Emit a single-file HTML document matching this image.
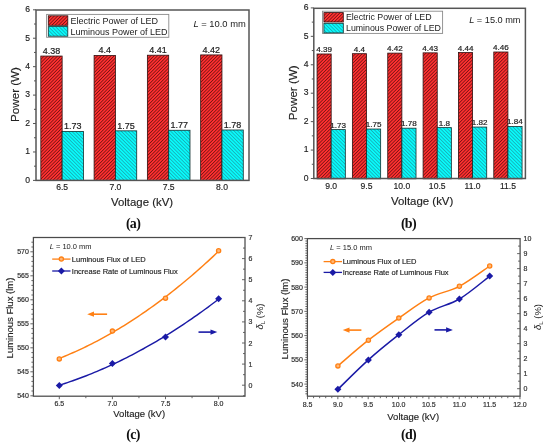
<!DOCTYPE html><html><head><meta charset="utf-8"><style>html,body{margin:0;padding:0;background:#fff;}svg{display:block;will-change:transform;}</style></head><body>
<svg width="550" height="446" viewBox="0 0 550 446" font-family='"Liberation Sans", sans-serif'>
<defs>
<pattern id="hr" patternUnits="userSpaceOnUse" width="2.35" height="3" patternTransform="rotate(45)">
<rect width="2.35" height="3" fill="#ff3030"/><rect x="0" y="0" width="0.7" height="3" fill="#661010"/></pattern>
<pattern id="hc" patternUnits="userSpaceOnUse" width="2.5" height="3.3" patternTransform="rotate(-45)">
<rect width="2.5" height="3.3" fill="#08fafa"/><rect x="0" y="0" width="0.65" height="3.3" fill="#1a9aa6"/></pattern>
</defs>
<rect width="550" height="446" fill="#fff"/>
<rect x="40.83" y="56.06" width="21.31" height="124.54" fill="url(#hr)" stroke="#301010" stroke-width="0.8"/>
<rect x="62.14" y="131.41" width="21.31" height="49.19" fill="url(#hc)" stroke="#103030" stroke-width="0.8"/>
<text x="51.48" y="54.06" font-size="9" text-anchor="middle" fill="#222" stroke="#222" stroke-width="0.2">4.38</text>
<text x="72.79" y="129.41" font-size="9" text-anchor="middle" fill="#222" stroke="#222" stroke-width="0.2">1.73</text>
<text x="62.14" y="190.48" font-size="8.6" text-anchor="middle" fill="#222" stroke="#222" stroke-width="0.15">6.5</text>
<rect x="94.10" y="55.49" width="21.31" height="125.11" fill="url(#hr)" stroke="#301010" stroke-width="0.8"/>
<rect x="115.41" y="130.84" width="21.31" height="49.76" fill="url(#hc)" stroke="#103030" stroke-width="0.8"/>
<text x="104.76" y="53.49" font-size="9" text-anchor="middle" fill="#222" stroke="#222" stroke-width="0.2">4.4</text>
<text x="126.07" y="128.84" font-size="9" text-anchor="middle" fill="#222" stroke="#222" stroke-width="0.2">1.75</text>
<text x="115.41" y="190.48" font-size="8.6" text-anchor="middle" fill="#222" stroke="#222" stroke-width="0.15">7.0</text>
<rect x="147.38" y="55.21" width="21.31" height="125.39" fill="url(#hr)" stroke="#301010" stroke-width="0.8"/>
<rect x="168.69" y="130.27" width="21.31" height="50.33" fill="url(#hc)" stroke="#103030" stroke-width="0.8"/>
<text x="158.03" y="53.21" font-size="9" text-anchor="middle" fill="#222" stroke="#222" stroke-width="0.2">4.41</text>
<text x="179.34" y="128.27" font-size="9" text-anchor="middle" fill="#222" stroke="#222" stroke-width="0.2">1.77</text>
<text x="168.69" y="190.48" font-size="8.6" text-anchor="middle" fill="#222" stroke="#222" stroke-width="0.15">7.5</text>
<rect x="200.65" y="54.92" width="21.31" height="125.68" fill="url(#hr)" stroke="#301010" stroke-width="0.8"/>
<rect x="221.96" y="129.99" width="21.31" height="50.61" fill="url(#hc)" stroke="#103030" stroke-width="0.8"/>
<text x="211.31" y="52.92" font-size="9" text-anchor="middle" fill="#222" stroke="#222" stroke-width="0.2">4.42</text>
<text x="232.62" y="127.99" font-size="9" text-anchor="middle" fill="#222" stroke="#222" stroke-width="0.2">1.78</text>
<text x="221.96" y="190.48" font-size="8.6" text-anchor="middle" fill="#222" stroke="#222" stroke-width="0.15">8.0</text>
<rect x="36.00" y="10.00" width="213.00" height="170.40" fill="none" stroke="#555" stroke-width="1.5"/>
<line x1="33.00" y1="180.40" x2="36.00" y2="180.40" stroke="#555" stroke-width="1"/>
<text x="30.00" y="182.68" font-size="8.6" text-anchor="end" fill="#222" stroke="#222" stroke-width="0.15">0</text>
<line x1="34.00" y1="166.18" x2="36.00" y2="166.18" stroke="#555" stroke-width="1"/>
<line x1="33.00" y1="151.97" x2="36.00" y2="151.97" stroke="#555" stroke-width="1"/>
<text x="30.00" y="154.25" font-size="8.6" text-anchor="end" fill="#222" stroke="#222" stroke-width="0.15">1</text>
<line x1="34.00" y1="137.75" x2="36.00" y2="137.75" stroke="#555" stroke-width="1"/>
<line x1="33.00" y1="123.53" x2="36.00" y2="123.53" stroke="#555" stroke-width="1"/>
<text x="30.00" y="125.81" font-size="8.6" text-anchor="end" fill="#222" stroke="#222" stroke-width="0.15">2</text>
<line x1="34.00" y1="109.32" x2="36.00" y2="109.32" stroke="#555" stroke-width="1"/>
<line x1="33.00" y1="95.10" x2="36.00" y2="95.10" stroke="#555" stroke-width="1"/>
<text x="30.00" y="97.38" font-size="8.6" text-anchor="end" fill="#222" stroke="#222" stroke-width="0.15">3</text>
<line x1="34.00" y1="80.88" x2="36.00" y2="80.88" stroke="#555" stroke-width="1"/>
<line x1="33.00" y1="66.67" x2="36.00" y2="66.67" stroke="#555" stroke-width="1"/>
<text x="30.00" y="68.95" font-size="8.6" text-anchor="end" fill="#222" stroke="#222" stroke-width="0.15">4</text>
<line x1="34.00" y1="52.45" x2="36.00" y2="52.45" stroke="#555" stroke-width="1"/>
<line x1="33.00" y1="38.23" x2="36.00" y2="38.23" stroke="#555" stroke-width="1"/>
<text x="30.00" y="40.51" font-size="8.6" text-anchor="end" fill="#222" stroke="#222" stroke-width="0.15">5</text>
<line x1="34.00" y1="24.02" x2="36.00" y2="24.02" stroke="#555" stroke-width="1"/>
<line x1="33.00" y1="9.80" x2="36.00" y2="9.80" stroke="#555" stroke-width="1"/>
<text x="30.00" y="12.08" font-size="8.6" text-anchor="end" fill="#222" stroke="#222" stroke-width="0.15">6</text>
<rect x="46.6" y="14.4" width="122.20000000000002" height="22.9" fill="#fff" stroke="#8a8a8a" stroke-width="0.9"/>
<rect x="48.3" y="15.8" width="19.5" height="9.5" fill="url(#hr)" stroke="#301010" stroke-width="0.8"/>
<rect x="48.3" y="26.6" width="19.5" height="9.600000000000001" fill="url(#hc)" stroke="#103030" stroke-width="0.8"/>
<text x="70.50" y="23.77" font-size="9" text-anchor="start" fill="#222" >Electric Power of LED</text>
<text x="70.50" y="34.62" font-size="9" text-anchor="start" fill="#222" >Luminous Power of LED</text>
<text x="193.4" y="27.17" font-size="9.40" fill="#222"><tspan font-style="italic">L</tspan> = 10.0 mm</text>
<text transform="translate(18.95,94.50) rotate(-90)" font-size="11.6" text-anchor="middle" fill="#222" stroke="#222" stroke-width="0.15">Power (W)</text>
<text x="111.00" y="206.28" font-size="11.4" text-anchor="start" fill="#222" stroke="#222" stroke-width="0.15">Voltage (kV)</text>
<text x="133" y="227.61" font-size="14" font-family="Liberation Serif, serif" font-weight="bold" fill="#111" text-anchor="middle" letter-spacing="-0.7">(a)</text>
<rect x="317.04" y="53.98" width="14.14" height="124.82" fill="url(#hr)" stroke="#301010" stroke-width="0.8"/>
<rect x="331.18" y="129.61" width="14.14" height="49.19" fill="url(#hc)" stroke="#103030" stroke-width="0.8"/>
<text x="324.11" y="51.98" font-size="8.1" text-anchor="middle" fill="#222" stroke="#222" stroke-width="0.2">4.39</text>
<text x="338.25" y="127.61" font-size="8.1" text-anchor="middle" fill="#222" stroke="#222" stroke-width="0.2">1.73</text>
<text x="331.18" y="189.38" font-size="8.6" text-anchor="middle" fill="#222" stroke="#222" stroke-width="0.15">9.0</text>
<rect x="352.38" y="53.69" width="14.14" height="125.11" fill="url(#hr)" stroke="#301010" stroke-width="0.8"/>
<rect x="366.52" y="129.04" width="14.14" height="49.76" fill="url(#hc)" stroke="#103030" stroke-width="0.8"/>
<text x="359.45" y="51.69" font-size="8.1" text-anchor="middle" fill="#222" stroke="#222" stroke-width="0.2">4.4</text>
<text x="373.59" y="127.04" font-size="8.1" text-anchor="middle" fill="#222" stroke="#222" stroke-width="0.2">1.75</text>
<text x="366.52" y="189.38" font-size="8.6" text-anchor="middle" fill="#222" stroke="#222" stroke-width="0.15">9.5</text>
<rect x="387.74" y="53.12" width="14.14" height="125.68" fill="url(#hr)" stroke="#301010" stroke-width="0.8"/>
<rect x="401.88" y="128.19" width="14.14" height="50.61" fill="url(#hc)" stroke="#103030" stroke-width="0.8"/>
<text x="394.81" y="51.12" font-size="8.1" text-anchor="middle" fill="#222" stroke="#222" stroke-width="0.2">4.42</text>
<text x="408.94" y="126.19" font-size="8.1" text-anchor="middle" fill="#222" stroke="#222" stroke-width="0.2">1.78</text>
<text x="401.88" y="189.38" font-size="8.6" text-anchor="middle" fill="#222" stroke="#222" stroke-width="0.15">10.0</text>
<rect x="423.09" y="52.84" width="14.14" height="125.96" fill="url(#hr)" stroke="#301010" stroke-width="0.8"/>
<rect x="437.23" y="127.62" width="14.14" height="51.18" fill="url(#hc)" stroke="#103030" stroke-width="0.8"/>
<text x="430.16" y="50.84" font-size="8.1" text-anchor="middle" fill="#222" stroke="#222" stroke-width="0.2">4.43</text>
<text x="444.30" y="125.62" font-size="8.1" text-anchor="middle" fill="#222" stroke="#222" stroke-width="0.2">1.8</text>
<text x="437.23" y="189.38" font-size="8.6" text-anchor="middle" fill="#222" stroke="#222" stroke-width="0.15">10.5</text>
<rect x="458.44" y="52.56" width="14.14" height="126.24" fill="url(#hr)" stroke="#301010" stroke-width="0.8"/>
<rect x="472.58" y="127.05" width="14.14" height="51.75" fill="url(#hc)" stroke="#103030" stroke-width="0.8"/>
<text x="465.51" y="50.56" font-size="8.1" text-anchor="middle" fill="#222" stroke="#222" stroke-width="0.2">4.44</text>
<text x="479.65" y="125.05" font-size="8.1" text-anchor="middle" fill="#222" stroke="#222" stroke-width="0.2">1.82</text>
<text x="472.58" y="189.38" font-size="8.6" text-anchor="middle" fill="#222" stroke="#222" stroke-width="0.15">11.0</text>
<rect x="493.79" y="51.99" width="14.14" height="126.81" fill="url(#hr)" stroke="#301010" stroke-width="0.8"/>
<rect x="507.93" y="126.48" width="14.14" height="52.32" fill="url(#hc)" stroke="#103030" stroke-width="0.8"/>
<text x="500.86" y="49.99" font-size="8.1" text-anchor="middle" fill="#222" stroke="#222" stroke-width="0.2">4.46</text>
<text x="515.00" y="124.48" font-size="8.1" text-anchor="middle" fill="#222" stroke="#222" stroke-width="0.2">1.84</text>
<text x="507.93" y="189.38" font-size="8.6" text-anchor="middle" fill="#222" stroke="#222" stroke-width="0.15">11.5</text>
<rect x="313.80" y="8.30" width="211.60" height="170.20" fill="none" stroke="#555" stroke-width="1.5"/>
<line x1="310.80" y1="178.50" x2="313.80" y2="178.50" stroke="#555" stroke-width="1"/>
<text x="308.50" y="180.78" font-size="8.6" text-anchor="end" fill="#222" stroke="#222" stroke-width="0.15">0</text>
<line x1="311.80" y1="164.28" x2="313.80" y2="164.28" stroke="#555" stroke-width="1"/>
<line x1="310.80" y1="150.07" x2="313.80" y2="150.07" stroke="#555" stroke-width="1"/>
<text x="308.50" y="152.35" font-size="8.6" text-anchor="end" fill="#222" stroke="#222" stroke-width="0.15">1</text>
<line x1="311.80" y1="135.85" x2="313.80" y2="135.85" stroke="#555" stroke-width="1"/>
<line x1="310.80" y1="121.63" x2="313.80" y2="121.63" stroke="#555" stroke-width="1"/>
<text x="308.50" y="123.91" font-size="8.6" text-anchor="end" fill="#222" stroke="#222" stroke-width="0.15">2</text>
<line x1="311.80" y1="107.42" x2="313.80" y2="107.42" stroke="#555" stroke-width="1"/>
<line x1="310.80" y1="93.20" x2="313.80" y2="93.20" stroke="#555" stroke-width="1"/>
<text x="308.50" y="95.48" font-size="8.6" text-anchor="end" fill="#222" stroke="#222" stroke-width="0.15">3</text>
<line x1="311.80" y1="78.98" x2="313.80" y2="78.98" stroke="#555" stroke-width="1"/>
<line x1="310.80" y1="64.77" x2="313.80" y2="64.77" stroke="#555" stroke-width="1"/>
<text x="308.50" y="67.05" font-size="8.6" text-anchor="end" fill="#222" stroke="#222" stroke-width="0.15">4</text>
<line x1="311.80" y1="50.55" x2="313.80" y2="50.55" stroke="#555" stroke-width="1"/>
<line x1="310.80" y1="36.33" x2="313.80" y2="36.33" stroke="#555" stroke-width="1"/>
<text x="308.50" y="38.61" font-size="8.6" text-anchor="end" fill="#222" stroke="#222" stroke-width="0.15">5</text>
<line x1="311.80" y1="22.12" x2="313.80" y2="22.12" stroke="#555" stroke-width="1"/>
<line x1="310.80" y1="7.90" x2="313.80" y2="7.90" stroke="#555" stroke-width="1"/>
<text x="308.50" y="10.18" font-size="8.6" text-anchor="end" fill="#222" stroke="#222" stroke-width="0.15">6</text>
<rect x="322.5" y="11.2" width="120.10000000000002" height="22.2" fill="#fff" stroke="#8a8a8a" stroke-width="0.9"/>
<rect x="323.9" y="12.6" width="19.400000000000034" height="9.4" fill="url(#hr)" stroke="#301010" stroke-width="0.8"/>
<rect x="323.9" y="23.3" width="19.400000000000034" height="9.599999999999998" fill="url(#hc)" stroke="#103030" stroke-width="0.8"/>
<text x="346.00" y="20.45" font-size="8.8" text-anchor="start" fill="#222" >Electric Power of LED</text>
<text x="346.00" y="31.25" font-size="8.8" text-anchor="start" fill="#222" >Luminous Power of LED</text>
<text x="469.2" y="23.29" font-size="9.20" fill="#222"><tspan font-style="italic">L</tspan> = 15.0 mm</text>
<text transform="translate(297.05,92.80) rotate(-90)" font-size="11.6" text-anchor="middle" fill="#222" stroke="#222" stroke-width="0.15">Power (W)</text>
<text x="391.00" y="204.70" font-size="11.45" text-anchor="start" fill="#222" stroke="#222" stroke-width="0.15">Voltage (kV)</text>
<text x="408.4" y="227.61" font-size="14" font-family="Liberation Serif, serif" font-weight="bold" fill="#111" text-anchor="middle" letter-spacing="-0.7">(b)</text>
<path d="M59.30,358.42 L62.00,357.34 L64.70,356.24 L67.40,355.11 L70.10,353.95 L72.80,352.77 L75.50,351.57 L78.20,350.34 L80.90,349.08 L83.60,347.80 L86.30,346.50 L89.00,345.16 L91.70,343.81 L94.40,342.42 L97.10,341.02 L99.80,339.58 L102.50,338.12 L105.20,336.64 L107.90,335.13 L110.60,333.59 L113.30,332.03 L116.00,330.45 L118.70,328.83 L121.40,327.20 L124.10,325.53 L126.80,323.84 L129.50,322.13 L132.20,320.39 L134.90,318.63 L137.60,316.84 L140.30,315.02 L143.00,313.18 L145.70,311.31 L148.40,309.42 L151.10,307.50 L153.80,305.56 L156.50,303.59 L159.20,301.60 L161.90,299.58 L164.60,297.53 L167.30,295.46 L170.00,293.37 L172.70,291.24 L175.40,289.10 L178.10,286.93 L180.80,284.73 L183.50,282.50 L186.20,280.26 L188.90,277.98 L191.60,275.68 L194.30,273.36 L197.00,271.01 L199.70,268.63 L202.40,266.23 L205.10,263.80 L207.80,261.35 L210.50,258.87 L213.20,256.37 L215.90,253.84 L218.60,251.28" fill="none" stroke="#ff8014" stroke-width="1.45"/>
<path d="M59.30,385.22 L62.00,384.36 L64.70,383.48 L67.40,382.58 L70.10,381.66 L72.80,380.72 L75.50,379.76 L78.20,378.78 L80.90,377.77 L83.60,376.75 L86.30,375.70 L89.00,374.64 L91.70,373.55 L94.40,372.45 L97.10,371.32 L99.80,370.17 L102.50,369.00 L105.20,367.81 L107.90,366.60 L110.60,365.37 L113.30,364.12 L116.00,362.85 L118.70,361.56 L121.40,360.24 L124.10,358.91 L126.80,357.55 L129.50,356.18 L132.20,354.78 L134.90,353.36 L137.60,351.93 L140.30,350.47 L143.00,348.99 L145.70,347.49 L148.40,345.97 L151.10,344.43 L153.80,342.87 L156.50,341.28 L159.20,339.68 L161.90,338.06 L164.60,336.41 L167.30,334.75 L170.00,333.06 L172.70,331.36 L175.40,329.63 L178.10,327.88 L180.80,326.11 L183.50,324.32 L186.20,322.51 L188.90,320.68 L191.60,318.83 L194.30,316.96 L197.00,315.07 L199.70,313.15 L202.40,311.22 L205.10,309.26 L207.80,307.29 L210.50,305.29 L213.20,303.28 L215.90,301.24 L218.60,299.18" fill="none" stroke="#1a1aa6" stroke-width="1.45"/>
<circle cx="59.30" cy="358.90" r="2.1" fill="#ffb878" stroke="#ff8014" stroke-width="1.3"/>
<circle cx="112.40" cy="331.10" r="2.1" fill="#ffb878" stroke="#ff8014" stroke-width="1.3"/>
<circle cx="165.50" cy="298.30" r="2.1" fill="#ffb878" stroke="#ff8014" stroke-width="1.3"/>
<circle cx="218.60" cy="250.80" r="2.1" fill="#ffb878" stroke="#ff8014" stroke-width="1.3"/>
<path d="M59.30,382.10 L62.80,385.60 L59.30,389.10 L55.80,385.60 Z" fill="#1a1aa6"/>
<path d="M112.40,359.90 L115.90,363.40 L112.40,366.90 L108.90,363.40 Z" fill="#1a1aa6"/>
<path d="M165.50,333.50 L169.00,337.00 L165.50,340.50 L162.00,337.00 Z" fill="#1a1aa6"/>
<path d="M218.60,295.30 L222.10,298.80 L218.60,302.30 L215.10,298.80 Z" fill="#1a1aa6"/>
<rect x="33.40" y="237.50" width="211.60" height="158.70" fill="none" stroke="#4a4a4a" stroke-width="1.25"/>
<line x1="30.40" y1="395.80" x2="33.40" y2="395.80" stroke="#555" stroke-width="0.9"/>
<text x="28.90" y="398.31" font-size="7.0" text-anchor="end" fill="#333" stroke="#333" stroke-width="0.2">540</text>
<line x1="31.40" y1="391.00" x2="33.40" y2="391.00" stroke="#555" stroke-width="0.9"/>
<line x1="31.40" y1="386.20" x2="33.40" y2="386.20" stroke="#555" stroke-width="0.9"/>
<line x1="31.40" y1="381.40" x2="33.40" y2="381.40" stroke="#555" stroke-width="0.9"/>
<line x1="31.40" y1="376.60" x2="33.40" y2="376.60" stroke="#555" stroke-width="0.9"/>
<line x1="30.40" y1="371.80" x2="33.40" y2="371.80" stroke="#555" stroke-width="0.9"/>
<text x="28.90" y="374.31" font-size="7.0" text-anchor="end" fill="#333" stroke="#333" stroke-width="0.2">545</text>
<line x1="31.40" y1="367.00" x2="33.40" y2="367.00" stroke="#555" stroke-width="0.9"/>
<line x1="31.40" y1="362.20" x2="33.40" y2="362.20" stroke="#555" stroke-width="0.9"/>
<line x1="31.40" y1="357.40" x2="33.40" y2="357.40" stroke="#555" stroke-width="0.9"/>
<line x1="31.40" y1="352.60" x2="33.40" y2="352.60" stroke="#555" stroke-width="0.9"/>
<line x1="30.40" y1="347.80" x2="33.40" y2="347.80" stroke="#555" stroke-width="0.9"/>
<text x="28.90" y="350.31" font-size="7.0" text-anchor="end" fill="#333" stroke="#333" stroke-width="0.2">550</text>
<line x1="31.40" y1="343.00" x2="33.40" y2="343.00" stroke="#555" stroke-width="0.9"/>
<line x1="31.40" y1="338.20" x2="33.40" y2="338.20" stroke="#555" stroke-width="0.9"/>
<line x1="31.40" y1="333.40" x2="33.40" y2="333.40" stroke="#555" stroke-width="0.9"/>
<line x1="31.40" y1="328.60" x2="33.40" y2="328.60" stroke="#555" stroke-width="0.9"/>
<line x1="30.40" y1="323.80" x2="33.40" y2="323.80" stroke="#555" stroke-width="0.9"/>
<text x="28.90" y="326.31" font-size="7.0" text-anchor="end" fill="#333" stroke="#333" stroke-width="0.2">555</text>
<line x1="31.40" y1="319.00" x2="33.40" y2="319.00" stroke="#555" stroke-width="0.9"/>
<line x1="31.40" y1="314.20" x2="33.40" y2="314.20" stroke="#555" stroke-width="0.9"/>
<line x1="31.40" y1="309.40" x2="33.40" y2="309.40" stroke="#555" stroke-width="0.9"/>
<line x1="31.40" y1="304.60" x2="33.40" y2="304.60" stroke="#555" stroke-width="0.9"/>
<line x1="30.40" y1="299.80" x2="33.40" y2="299.80" stroke="#555" stroke-width="0.9"/>
<text x="28.90" y="302.31" font-size="7.0" text-anchor="end" fill="#333" stroke="#333" stroke-width="0.2">560</text>
<line x1="31.40" y1="295.00" x2="33.40" y2="295.00" stroke="#555" stroke-width="0.9"/>
<line x1="31.40" y1="290.20" x2="33.40" y2="290.20" stroke="#555" stroke-width="0.9"/>
<line x1="31.40" y1="285.40" x2="33.40" y2="285.40" stroke="#555" stroke-width="0.9"/>
<line x1="31.40" y1="280.60" x2="33.40" y2="280.60" stroke="#555" stroke-width="0.9"/>
<line x1="30.40" y1="275.80" x2="33.40" y2="275.80" stroke="#555" stroke-width="0.9"/>
<text x="28.90" y="278.31" font-size="7.0" text-anchor="end" fill="#333" stroke="#333" stroke-width="0.2">565</text>
<line x1="31.40" y1="271.00" x2="33.40" y2="271.00" stroke="#555" stroke-width="0.9"/>
<line x1="31.40" y1="266.20" x2="33.40" y2="266.20" stroke="#555" stroke-width="0.9"/>
<line x1="31.40" y1="261.40" x2="33.40" y2="261.40" stroke="#555" stroke-width="0.9"/>
<line x1="31.40" y1="256.60" x2="33.40" y2="256.60" stroke="#555" stroke-width="0.9"/>
<line x1="30.40" y1="251.80" x2="33.40" y2="251.80" stroke="#555" stroke-width="0.9"/>
<text x="28.90" y="254.31" font-size="7.0" text-anchor="end" fill="#333" stroke="#333" stroke-width="0.2">570</text>
<line x1="31.40" y1="247.00" x2="33.40" y2="247.00" stroke="#555" stroke-width="0.9"/>
<line x1="31.40" y1="242.20" x2="33.40" y2="242.20" stroke="#555" stroke-width="0.9"/>
<line x1="243.00" y1="395.75" x2="245.00" y2="395.75" stroke="#555" stroke-width="0.9"/>
<line x1="242.00" y1="385.20" x2="245.00" y2="385.20" stroke="#555" stroke-width="0.9"/>
<text x="248.50" y="387.71" font-size="7.0" text-anchor="start" fill="#333" stroke="#333" stroke-width="0.2">0</text>
<line x1="243.00" y1="374.65" x2="245.00" y2="374.65" stroke="#555" stroke-width="0.9"/>
<line x1="242.00" y1="364.10" x2="245.00" y2="364.10" stroke="#555" stroke-width="0.9"/>
<text x="248.50" y="366.61" font-size="7.0" text-anchor="start" fill="#333" stroke="#333" stroke-width="0.2">1</text>
<line x1="243.00" y1="353.55" x2="245.00" y2="353.55" stroke="#555" stroke-width="0.9"/>
<line x1="242.00" y1="343.00" x2="245.00" y2="343.00" stroke="#555" stroke-width="0.9"/>
<text x="248.50" y="345.51" font-size="7.0" text-anchor="start" fill="#333" stroke="#333" stroke-width="0.2">2</text>
<line x1="243.00" y1="332.45" x2="245.00" y2="332.45" stroke="#555" stroke-width="0.9"/>
<line x1="242.00" y1="321.90" x2="245.00" y2="321.90" stroke="#555" stroke-width="0.9"/>
<text x="248.50" y="324.41" font-size="7.0" text-anchor="start" fill="#333" stroke="#333" stroke-width="0.2">3</text>
<line x1="243.00" y1="311.35" x2="245.00" y2="311.35" stroke="#555" stroke-width="0.9"/>
<line x1="242.00" y1="300.80" x2="245.00" y2="300.80" stroke="#555" stroke-width="0.9"/>
<text x="248.50" y="303.31" font-size="7.0" text-anchor="start" fill="#333" stroke="#333" stroke-width="0.2">4</text>
<line x1="243.00" y1="290.25" x2="245.00" y2="290.25" stroke="#555" stroke-width="0.9"/>
<line x1="242.00" y1="279.70" x2="245.00" y2="279.70" stroke="#555" stroke-width="0.9"/>
<text x="248.50" y="282.21" font-size="7.0" text-anchor="start" fill="#333" stroke="#333" stroke-width="0.2">5</text>
<line x1="243.00" y1="269.15" x2="245.00" y2="269.15" stroke="#555" stroke-width="0.9"/>
<line x1="242.00" y1="258.60" x2="245.00" y2="258.60" stroke="#555" stroke-width="0.9"/>
<text x="248.50" y="261.11" font-size="7.0" text-anchor="start" fill="#333" stroke="#333" stroke-width="0.2">6</text>
<line x1="243.00" y1="248.05" x2="245.00" y2="248.05" stroke="#555" stroke-width="0.9"/>
<line x1="242.00" y1="237.50" x2="245.00" y2="237.50" stroke="#555" stroke-width="0.9"/>
<text x="248.50" y="240.01" font-size="7.0" text-anchor="start" fill="#333" stroke="#333" stroke-width="0.2">7</text>
<line x1="59.30" y1="396.20" x2="59.30" y2="399.20" stroke="#555" stroke-width="0.9"/>
<text x="59.30" y="405.71" font-size="7.0" text-anchor="middle" fill="#333" stroke="#333" stroke-width="0.2">6.5</text>
<line x1="85.85" y1="396.20" x2="85.85" y2="398.20" stroke="#555" stroke-width="0.9"/>
<line x1="112.40" y1="396.20" x2="112.40" y2="399.20" stroke="#555" stroke-width="0.9"/>
<text x="112.40" y="405.71" font-size="7.0" text-anchor="middle" fill="#333" stroke="#333" stroke-width="0.2">7.0</text>
<line x1="138.95" y1="396.20" x2="138.95" y2="398.20" stroke="#555" stroke-width="0.9"/>
<line x1="165.50" y1="396.20" x2="165.50" y2="399.20" stroke="#555" stroke-width="0.9"/>
<text x="165.50" y="405.71" font-size="7.0" text-anchor="middle" fill="#333" stroke="#333" stroke-width="0.2">7.5</text>
<line x1="192.05" y1="396.20" x2="192.05" y2="398.20" stroke="#555" stroke-width="0.9"/>
<line x1="218.60" y1="396.20" x2="218.60" y2="399.20" stroke="#555" stroke-width="0.9"/>
<text x="218.60" y="405.71" font-size="7.0" text-anchor="middle" fill="#333" stroke="#333" stroke-width="0.2">8.0</text>
<text x="49.7" y="249.09" font-size="7.5" fill="#222"><tspan font-style="italic">L</tspan> = 10.0 mm</text>
<line x1="52.20" y1="259.10" x2="70.50" y2="259.10" stroke="#ff8014" stroke-width="1.3"/>
<circle cx="61.35" cy="259.10" r="2.1" fill="#ffb878" stroke="#ff8014" stroke-width="1.3"/>
<line x1="52.20" y1="271.00" x2="70.50" y2="271.00" stroke="#1a1aa6" stroke-width="1.3"/>
<path d="M61.35,267.50 L64.85,271.00 L61.35,274.50 L57.85,271.00 Z" fill="#1a1aa6"/>
<text x="71.80" y="261.79" font-size="7.5" text-anchor="start" fill="#222" stroke="#222" stroke-width="0.15">Luminous Flux of LED</text>
<text x="71.80" y="273.69" font-size="7.5" text-anchor="start" fill="#222" stroke="#222" stroke-width="0.15">Increase Rate of Luminous Flux</text>
<line x1="91.20" y1="314.2" x2="107.10" y2="314.2" stroke="#ff8014" stroke-width="1.6"/>
<path d="M87.20,314.2 L94.00,311.60 L94.00,316.80 Z" fill="#ff8014"/>
<line x1="198.50" y1="332.1" x2="213.30" y2="332.1" stroke="#1a1aa6" stroke-width="1.6"/>
<path d="M217.30,332.1 L210.50,329.50 L210.50,334.70 Z" fill="#1a1aa6"/>
<text transform="translate(13.40,318.00) rotate(-90)" font-size="9.5" text-anchor="middle" fill="#222" stroke="#222" stroke-width="0.15">Luminous Flux (lm)</text>
<text transform="translate(263.40,316.50) rotate(-90)" font-size="9.5" text-anchor="middle" fill="#222"><tspan font-style="italic">δ</tspan><tspan font-size="6" dy="2">L</tspan><tspan dy="-2"> (%)</tspan></text>
<text x="113.30" y="417.40" font-size="9.5" text-anchor="start" fill="#222" stroke="#222" stroke-width="0.15">Voltage (kV)</text>
<text x="132.9" y="438.51" font-size="14" font-family="Liberation Serif, serif" font-weight="bold" fill="#111" text-anchor="middle" letter-spacing="-0.7">(c)</text>
<path d="M337.90,365.90 C342.98,361.62 358.25,348.17 368.40,340.20 C378.55,332.23 388.68,325.15 398.80,318.10 C408.92,311.05 419.00,303.20 429.10,297.90 C439.20,292.60 449.30,291.62 459.40,286.30 C469.50,280.98 484.65,269.38 489.70,266.00" fill="none" stroke="#ff8014" stroke-width="1.5"/>
<path d="M337.90,389.30 C342.98,384.40 358.25,369.00 368.40,359.90 C378.55,350.80 388.68,342.65 398.80,334.70 C408.92,326.75 419.00,318.15 429.10,312.20 C439.20,306.25 449.30,305.02 459.40,299.00 C469.50,292.98 484.65,279.92 489.70,276.10" fill="none" stroke="#1a1aa6" stroke-width="1.5"/>
<circle cx="337.90" cy="365.90" r="2.1" fill="#ffb878" stroke="#ff8014" stroke-width="1.3"/>
<circle cx="368.40" cy="340.20" r="2.1" fill="#ffb878" stroke="#ff8014" stroke-width="1.3"/>
<circle cx="398.80" cy="318.10" r="2.1" fill="#ffb878" stroke="#ff8014" stroke-width="1.3"/>
<circle cx="429.10" cy="297.90" r="2.1" fill="#ffb878" stroke="#ff8014" stroke-width="1.3"/>
<circle cx="459.40" cy="286.30" r="2.1" fill="#ffb878" stroke="#ff8014" stroke-width="1.3"/>
<circle cx="489.70" cy="266.00" r="2.1" fill="#ffb878" stroke="#ff8014" stroke-width="1.3"/>
<path d="M337.90,385.80 L341.40,389.30 L337.90,392.80 L334.40,389.30 Z" fill="#1a1aa6"/>
<path d="M368.40,356.40 L371.90,359.90 L368.40,363.40 L364.90,359.90 Z" fill="#1a1aa6"/>
<path d="M398.80,331.20 L402.30,334.70 L398.80,338.20 L395.30,334.70 Z" fill="#1a1aa6"/>
<path d="M429.10,308.70 L432.60,312.20 L429.10,315.70 L425.60,312.20 Z" fill="#1a1aa6"/>
<path d="M459.40,295.50 L462.90,299.00 L459.40,302.50 L455.90,299.00 Z" fill="#1a1aa6"/>
<path d="M489.70,272.60 L493.20,276.10 L489.70,279.60 L486.20,276.10 Z" fill="#1a1aa6"/>
<rect x="307.40" y="238.60" width="212.70" height="157.60" fill="none" stroke="#4a4a4a" stroke-width="1.25"/>
<line x1="305.40" y1="393.80" x2="307.40" y2="393.80" stroke="#555" stroke-width="0.9"/>
<line x1="305.40" y1="391.38" x2="307.40" y2="391.38" stroke="#555" stroke-width="0.9"/>
<line x1="305.40" y1="388.95" x2="307.40" y2="388.95" stroke="#555" stroke-width="0.9"/>
<line x1="305.40" y1="386.52" x2="307.40" y2="386.52" stroke="#555" stroke-width="0.9"/>
<line x1="304.40" y1="384.10" x2="307.40" y2="384.10" stroke="#555" stroke-width="0.9"/>
<text x="302.90" y="386.61" font-size="7.0" text-anchor="end" fill="#333" stroke="#333" stroke-width="0.2">540</text>
<line x1="305.40" y1="381.67" x2="307.40" y2="381.67" stroke="#555" stroke-width="0.9"/>
<line x1="305.40" y1="379.25" x2="307.40" y2="379.25" stroke="#555" stroke-width="0.9"/>
<line x1="305.40" y1="376.82" x2="307.40" y2="376.82" stroke="#555" stroke-width="0.9"/>
<line x1="305.40" y1="374.40" x2="307.40" y2="374.40" stroke="#555" stroke-width="0.9"/>
<line x1="305.40" y1="371.98" x2="307.40" y2="371.98" stroke="#555" stroke-width="0.9"/>
<line x1="305.40" y1="369.55" x2="307.40" y2="369.55" stroke="#555" stroke-width="0.9"/>
<line x1="305.40" y1="367.12" x2="307.40" y2="367.12" stroke="#555" stroke-width="0.9"/>
<line x1="305.40" y1="364.70" x2="307.40" y2="364.70" stroke="#555" stroke-width="0.9"/>
<line x1="305.40" y1="362.27" x2="307.40" y2="362.27" stroke="#555" stroke-width="0.9"/>
<line x1="304.40" y1="359.85" x2="307.40" y2="359.85" stroke="#555" stroke-width="0.9"/>
<text x="302.90" y="362.36" font-size="7.0" text-anchor="end" fill="#333" stroke="#333" stroke-width="0.2">550</text>
<line x1="305.40" y1="357.42" x2="307.40" y2="357.42" stroke="#555" stroke-width="0.9"/>
<line x1="305.40" y1="355.00" x2="307.40" y2="355.00" stroke="#555" stroke-width="0.9"/>
<line x1="305.40" y1="352.57" x2="307.40" y2="352.57" stroke="#555" stroke-width="0.9"/>
<line x1="305.40" y1="350.15" x2="307.40" y2="350.15" stroke="#555" stroke-width="0.9"/>
<line x1="305.40" y1="347.72" x2="307.40" y2="347.72" stroke="#555" stroke-width="0.9"/>
<line x1="305.40" y1="345.30" x2="307.40" y2="345.30" stroke="#555" stroke-width="0.9"/>
<line x1="305.40" y1="342.88" x2="307.40" y2="342.88" stroke="#555" stroke-width="0.9"/>
<line x1="305.40" y1="340.45" x2="307.40" y2="340.45" stroke="#555" stroke-width="0.9"/>
<line x1="305.40" y1="338.02" x2="307.40" y2="338.02" stroke="#555" stroke-width="0.9"/>
<line x1="304.40" y1="335.60" x2="307.40" y2="335.60" stroke="#555" stroke-width="0.9"/>
<text x="302.90" y="338.11" font-size="7.0" text-anchor="end" fill="#333" stroke="#333" stroke-width="0.2">560</text>
<line x1="305.40" y1="333.17" x2="307.40" y2="333.17" stroke="#555" stroke-width="0.9"/>
<line x1="305.40" y1="330.75" x2="307.40" y2="330.75" stroke="#555" stroke-width="0.9"/>
<line x1="305.40" y1="328.32" x2="307.40" y2="328.32" stroke="#555" stroke-width="0.9"/>
<line x1="305.40" y1="325.90" x2="307.40" y2="325.90" stroke="#555" stroke-width="0.9"/>
<line x1="305.40" y1="323.48" x2="307.40" y2="323.48" stroke="#555" stroke-width="0.9"/>
<line x1="305.40" y1="321.05" x2="307.40" y2="321.05" stroke="#555" stroke-width="0.9"/>
<line x1="305.40" y1="318.62" x2="307.40" y2="318.62" stroke="#555" stroke-width="0.9"/>
<line x1="305.40" y1="316.20" x2="307.40" y2="316.20" stroke="#555" stroke-width="0.9"/>
<line x1="305.40" y1="313.77" x2="307.40" y2="313.77" stroke="#555" stroke-width="0.9"/>
<line x1="304.40" y1="311.35" x2="307.40" y2="311.35" stroke="#555" stroke-width="0.9"/>
<text x="302.90" y="313.86" font-size="7.0" text-anchor="end" fill="#333" stroke="#333" stroke-width="0.2">570</text>
<line x1="305.40" y1="308.92" x2="307.40" y2="308.92" stroke="#555" stroke-width="0.9"/>
<line x1="305.40" y1="306.50" x2="307.40" y2="306.50" stroke="#555" stroke-width="0.9"/>
<line x1="305.40" y1="304.07" x2="307.40" y2="304.07" stroke="#555" stroke-width="0.9"/>
<line x1="305.40" y1="301.65" x2="307.40" y2="301.65" stroke="#555" stroke-width="0.9"/>
<line x1="305.40" y1="299.22" x2="307.40" y2="299.22" stroke="#555" stroke-width="0.9"/>
<line x1="305.40" y1="296.80" x2="307.40" y2="296.80" stroke="#555" stroke-width="0.9"/>
<line x1="305.40" y1="294.38" x2="307.40" y2="294.38" stroke="#555" stroke-width="0.9"/>
<line x1="305.40" y1="291.95" x2="307.40" y2="291.95" stroke="#555" stroke-width="0.9"/>
<line x1="305.40" y1="289.52" x2="307.40" y2="289.52" stroke="#555" stroke-width="0.9"/>
<line x1="304.40" y1="287.10" x2="307.40" y2="287.10" stroke="#555" stroke-width="0.9"/>
<text x="302.90" y="289.61" font-size="7.0" text-anchor="end" fill="#333" stroke="#333" stroke-width="0.2">580</text>
<line x1="305.40" y1="284.68" x2="307.40" y2="284.68" stroke="#555" stroke-width="0.9"/>
<line x1="305.40" y1="282.25" x2="307.40" y2="282.25" stroke="#555" stroke-width="0.9"/>
<line x1="305.40" y1="279.82" x2="307.40" y2="279.82" stroke="#555" stroke-width="0.9"/>
<line x1="305.40" y1="277.40" x2="307.40" y2="277.40" stroke="#555" stroke-width="0.9"/>
<line x1="305.40" y1="274.98" x2="307.40" y2="274.98" stroke="#555" stroke-width="0.9"/>
<line x1="305.40" y1="272.55" x2="307.40" y2="272.55" stroke="#555" stroke-width="0.9"/>
<line x1="305.40" y1="270.12" x2="307.40" y2="270.12" stroke="#555" stroke-width="0.9"/>
<line x1="305.40" y1="267.70" x2="307.40" y2="267.70" stroke="#555" stroke-width="0.9"/>
<line x1="305.40" y1="265.27" x2="307.40" y2="265.27" stroke="#555" stroke-width="0.9"/>
<line x1="304.40" y1="262.85" x2="307.40" y2="262.85" stroke="#555" stroke-width="0.9"/>
<text x="302.90" y="265.36" font-size="7.0" text-anchor="end" fill="#333" stroke="#333" stroke-width="0.2">590</text>
<line x1="305.40" y1="260.43" x2="307.40" y2="260.43" stroke="#555" stroke-width="0.9"/>
<line x1="305.40" y1="258.00" x2="307.40" y2="258.00" stroke="#555" stroke-width="0.9"/>
<line x1="305.40" y1="255.57" x2="307.40" y2="255.57" stroke="#555" stroke-width="0.9"/>
<line x1="305.40" y1="253.15" x2="307.40" y2="253.15" stroke="#555" stroke-width="0.9"/>
<line x1="305.40" y1="250.72" x2="307.40" y2="250.72" stroke="#555" stroke-width="0.9"/>
<line x1="305.40" y1="248.30" x2="307.40" y2="248.30" stroke="#555" stroke-width="0.9"/>
<line x1="305.40" y1="245.88" x2="307.40" y2="245.88" stroke="#555" stroke-width="0.9"/>
<line x1="305.40" y1="243.45" x2="307.40" y2="243.45" stroke="#555" stroke-width="0.9"/>
<line x1="305.40" y1="241.03" x2="307.40" y2="241.03" stroke="#555" stroke-width="0.9"/>
<line x1="304.40" y1="238.60" x2="307.40" y2="238.60" stroke="#555" stroke-width="0.9"/>
<text x="302.90" y="241.11" font-size="7.0" text-anchor="end" fill="#333" stroke="#333" stroke-width="0.2">600</text>
<line x1="517.10" y1="388.70" x2="520.10" y2="388.70" stroke="#555" stroke-width="0.9"/>
<text x="523.60" y="391.21" font-size="7.0" text-anchor="start" fill="#333" stroke="#333" stroke-width="0.2">0</text>
<line x1="518.10" y1="381.19" x2="520.10" y2="381.19" stroke="#555" stroke-width="0.9"/>
<line x1="517.10" y1="373.69" x2="520.10" y2="373.69" stroke="#555" stroke-width="0.9"/>
<text x="523.60" y="376.20" font-size="7.0" text-anchor="start" fill="#333" stroke="#333" stroke-width="0.2">1</text>
<line x1="518.10" y1="366.19" x2="520.10" y2="366.19" stroke="#555" stroke-width="0.9"/>
<line x1="517.10" y1="358.68" x2="520.10" y2="358.68" stroke="#555" stroke-width="0.9"/>
<text x="523.60" y="361.19" font-size="7.0" text-anchor="start" fill="#333" stroke="#333" stroke-width="0.2">2</text>
<line x1="518.10" y1="351.18" x2="520.10" y2="351.18" stroke="#555" stroke-width="0.9"/>
<line x1="517.10" y1="343.67" x2="520.10" y2="343.67" stroke="#555" stroke-width="0.9"/>
<text x="523.60" y="346.18" font-size="7.0" text-anchor="start" fill="#333" stroke="#333" stroke-width="0.2">3</text>
<line x1="518.10" y1="336.16" x2="520.10" y2="336.16" stroke="#555" stroke-width="0.9"/>
<line x1="517.10" y1="328.66" x2="520.10" y2="328.66" stroke="#555" stroke-width="0.9"/>
<text x="523.60" y="331.17" font-size="7.0" text-anchor="start" fill="#333" stroke="#333" stroke-width="0.2">4</text>
<line x1="518.10" y1="321.15" x2="520.10" y2="321.15" stroke="#555" stroke-width="0.9"/>
<line x1="517.10" y1="313.65" x2="520.10" y2="313.65" stroke="#555" stroke-width="0.9"/>
<text x="523.60" y="316.16" font-size="7.0" text-anchor="start" fill="#333" stroke="#333" stroke-width="0.2">5</text>
<line x1="518.10" y1="306.14" x2="520.10" y2="306.14" stroke="#555" stroke-width="0.9"/>
<line x1="517.10" y1="298.64" x2="520.10" y2="298.64" stroke="#555" stroke-width="0.9"/>
<text x="523.60" y="301.15" font-size="7.0" text-anchor="start" fill="#333" stroke="#333" stroke-width="0.2">6</text>
<line x1="518.10" y1="291.13" x2="520.10" y2="291.13" stroke="#555" stroke-width="0.9"/>
<line x1="517.10" y1="283.63" x2="520.10" y2="283.63" stroke="#555" stroke-width="0.9"/>
<text x="523.60" y="286.14" font-size="7.0" text-anchor="start" fill="#333" stroke="#333" stroke-width="0.2">7</text>
<line x1="518.10" y1="276.12" x2="520.10" y2="276.12" stroke="#555" stroke-width="0.9"/>
<line x1="517.10" y1="268.62" x2="520.10" y2="268.62" stroke="#555" stroke-width="0.9"/>
<text x="523.60" y="271.13" font-size="7.0" text-anchor="start" fill="#333" stroke="#333" stroke-width="0.2">8</text>
<line x1="518.10" y1="261.12" x2="520.10" y2="261.12" stroke="#555" stroke-width="0.9"/>
<line x1="517.10" y1="253.61" x2="520.10" y2="253.61" stroke="#555" stroke-width="0.9"/>
<text x="523.60" y="256.12" font-size="7.0" text-anchor="start" fill="#333" stroke="#333" stroke-width="0.2">9</text>
<line x1="518.10" y1="246.10" x2="520.10" y2="246.10" stroke="#555" stroke-width="0.9"/>
<line x1="517.10" y1="238.60" x2="520.10" y2="238.60" stroke="#555" stroke-width="0.9"/>
<text x="523.60" y="241.11" font-size="7.0" text-anchor="start" fill="#333" stroke="#333" stroke-width="0.2">10</text>
<line x1="307.50" y1="396.20" x2="307.50" y2="399.20" stroke="#555" stroke-width="0.9"/>
<text x="307.50" y="407.31" font-size="7.0" text-anchor="middle" fill="#333" stroke="#333" stroke-width="0.2">8.5</text>
<line x1="313.57" y1="396.20" x2="313.57" y2="398.20" stroke="#555" stroke-width="0.9"/>
<line x1="319.64" y1="396.20" x2="319.64" y2="398.20" stroke="#555" stroke-width="0.9"/>
<line x1="325.71" y1="396.20" x2="325.71" y2="398.20" stroke="#555" stroke-width="0.9"/>
<line x1="331.78" y1="396.20" x2="331.78" y2="398.20" stroke="#555" stroke-width="0.9"/>
<line x1="337.85" y1="396.20" x2="337.85" y2="399.20" stroke="#555" stroke-width="0.9"/>
<text x="337.85" y="407.31" font-size="7.0" text-anchor="middle" fill="#333" stroke="#333" stroke-width="0.2">9.0</text>
<line x1="343.92" y1="396.20" x2="343.92" y2="398.20" stroke="#555" stroke-width="0.9"/>
<line x1="349.99" y1="396.20" x2="349.99" y2="398.20" stroke="#555" stroke-width="0.9"/>
<line x1="356.06" y1="396.20" x2="356.06" y2="398.20" stroke="#555" stroke-width="0.9"/>
<line x1="362.13" y1="396.20" x2="362.13" y2="398.20" stroke="#555" stroke-width="0.9"/>
<line x1="368.20" y1="396.20" x2="368.20" y2="399.20" stroke="#555" stroke-width="0.9"/>
<text x="368.20" y="407.31" font-size="7.0" text-anchor="middle" fill="#333" stroke="#333" stroke-width="0.2">9.5</text>
<line x1="374.27" y1="396.20" x2="374.27" y2="398.20" stroke="#555" stroke-width="0.9"/>
<line x1="380.34" y1="396.20" x2="380.34" y2="398.20" stroke="#555" stroke-width="0.9"/>
<line x1="386.41" y1="396.20" x2="386.41" y2="398.20" stroke="#555" stroke-width="0.9"/>
<line x1="392.48" y1="396.20" x2="392.48" y2="398.20" stroke="#555" stroke-width="0.9"/>
<line x1="398.55" y1="396.20" x2="398.55" y2="399.20" stroke="#555" stroke-width="0.9"/>
<text x="398.55" y="407.31" font-size="7.0" text-anchor="middle" fill="#333" stroke="#333" stroke-width="0.2">10.0</text>
<line x1="404.62" y1="396.20" x2="404.62" y2="398.20" stroke="#555" stroke-width="0.9"/>
<line x1="410.69" y1="396.20" x2="410.69" y2="398.20" stroke="#555" stroke-width="0.9"/>
<line x1="416.76" y1="396.20" x2="416.76" y2="398.20" stroke="#555" stroke-width="0.9"/>
<line x1="422.83" y1="396.20" x2="422.83" y2="398.20" stroke="#555" stroke-width="0.9"/>
<line x1="428.90" y1="396.20" x2="428.90" y2="399.20" stroke="#555" stroke-width="0.9"/>
<text x="428.90" y="407.31" font-size="7.0" text-anchor="middle" fill="#333" stroke="#333" stroke-width="0.2">10.5</text>
<line x1="434.97" y1="396.20" x2="434.97" y2="398.20" stroke="#555" stroke-width="0.9"/>
<line x1="441.04" y1="396.20" x2="441.04" y2="398.20" stroke="#555" stroke-width="0.9"/>
<line x1="447.11" y1="396.20" x2="447.11" y2="398.20" stroke="#555" stroke-width="0.9"/>
<line x1="453.18" y1="396.20" x2="453.18" y2="398.20" stroke="#555" stroke-width="0.9"/>
<line x1="459.25" y1="396.20" x2="459.25" y2="399.20" stroke="#555" stroke-width="0.9"/>
<text x="459.25" y="407.31" font-size="7.0" text-anchor="middle" fill="#333" stroke="#333" stroke-width="0.2">11.0</text>
<line x1="465.32" y1="396.20" x2="465.32" y2="398.20" stroke="#555" stroke-width="0.9"/>
<line x1="471.39" y1="396.20" x2="471.39" y2="398.20" stroke="#555" stroke-width="0.9"/>
<line x1="477.46" y1="396.20" x2="477.46" y2="398.20" stroke="#555" stroke-width="0.9"/>
<line x1="483.53" y1="396.20" x2="483.53" y2="398.20" stroke="#555" stroke-width="0.9"/>
<line x1="489.60" y1="396.20" x2="489.60" y2="399.20" stroke="#555" stroke-width="0.9"/>
<text x="489.60" y="407.31" font-size="7.0" text-anchor="middle" fill="#333" stroke="#333" stroke-width="0.2">11.5</text>
<line x1="495.67" y1="396.20" x2="495.67" y2="398.20" stroke="#555" stroke-width="0.9"/>
<line x1="501.74" y1="396.20" x2="501.74" y2="398.20" stroke="#555" stroke-width="0.9"/>
<line x1="507.81" y1="396.20" x2="507.81" y2="398.20" stroke="#555" stroke-width="0.9"/>
<line x1="513.88" y1="396.20" x2="513.88" y2="398.20" stroke="#555" stroke-width="0.9"/>
<line x1="519.95" y1="396.20" x2="519.95" y2="399.20" stroke="#555" stroke-width="0.9"/>
<text x="519.95" y="407.31" font-size="7.0" text-anchor="middle" fill="#333" stroke="#333" stroke-width="0.2">12.0</text>
<text x="330" y="250.28" font-size="7.5" fill="#222"><tspan font-style="italic">L</tspan> = 15.0 mm</text>
<line x1="323.60" y1="261.60" x2="342.00" y2="261.60" stroke="#ff8014" stroke-width="1.3"/>
<circle cx="332.80" cy="261.60" r="2.1" fill="#ffb878" stroke="#ff8014" stroke-width="1.3"/>
<line x1="323.60" y1="272.40" x2="342.00" y2="272.40" stroke="#1a1aa6" stroke-width="1.3"/>
<path d="M332.80,268.90 L336.30,272.40 L332.80,275.90 L329.30,272.40 Z" fill="#1a1aa6"/>
<text x="342.70" y="264.29" font-size="7.5" text-anchor="start" fill="#222" stroke="#222" stroke-width="0.15">Luminous Flux of LED</text>
<text x="342.70" y="275.08" font-size="7.5" text-anchor="start" fill="#222" stroke="#222" stroke-width="0.15">Increase Rate of Luminous Flux</text>
<line x1="346.70" y1="330.1" x2="361.40" y2="330.1" stroke="#ff8014" stroke-width="1.6"/>
<path d="M342.70,330.1 L349.50,327.50 L349.50,332.70 Z" fill="#ff8014"/>
<line x1="434.50" y1="329.9" x2="448.90" y2="329.9" stroke="#1a1aa6" stroke-width="1.6"/>
<path d="M452.90,329.9 L446.10,327.30 L446.10,332.50 Z" fill="#1a1aa6"/>
<text transform="translate(287.80,319.00) rotate(-90)" font-size="9.5" text-anchor="middle" fill="#222" stroke="#222" stroke-width="0.15">Luminous Flux (lm)</text>
<text transform="translate(541.20,317.00) rotate(-90)" font-size="9.5" text-anchor="middle" fill="#222"><tspan font-style="italic">δ</tspan><tspan font-size="6" dy="2">L</tspan><tspan dy="-2"> (%)</tspan></text>
<text x="387.30" y="419.60" font-size="9.5" text-anchor="start" fill="#222" stroke="#222" stroke-width="0.15">Voltage (kV)</text>
<text x="408.5" y="438.51" font-size="14" font-family="Liberation Serif, serif" font-weight="bold" fill="#111" text-anchor="middle" letter-spacing="-0.7">(d)</text>
</svg></body></html>
